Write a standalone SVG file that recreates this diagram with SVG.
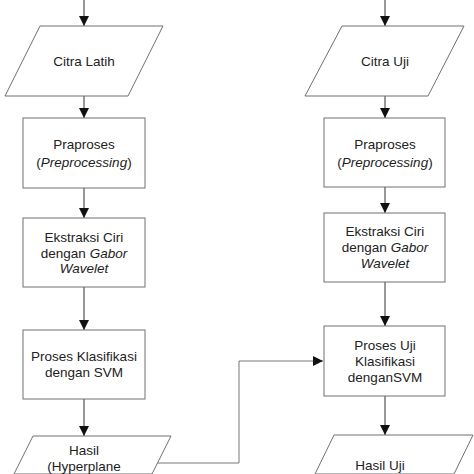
<svg xmlns="http://www.w3.org/2000/svg" width="474" height="474" viewBox="0 0 474 474">
<defs>
<marker id="ah" markerUnits="userSpaceOnUse" markerWidth="10" markerHeight="10" refX="10" refY="5" orient="auto">
<path d="M0,0 L10,5 L0,10 Z" fill="#111"/>
</marker>
<style>
.shape{fill:#fff;stroke:#707070;stroke-width:1}
.conn{fill:none;stroke:#333;stroke-width:1}
.ln{fill:none;stroke:#777;stroke-width:1}
text{font-family:"Liberation Sans",Arial,sans-serif;font-size:13.5px;fill:#222;text-anchor:middle}
.i{font-style:italic}
</style>
</defs>
<rect width="474" height="474" fill="#fff"/>
<g id="connectors">
<line class="conn" x1="84" y1="0" x2="84" y2="26" marker-end="url(#ah)"/>
<line class="conn" x1="84" y1="96" x2="84" y2="118" marker-end="url(#ah)"/>
<line class="conn" x1="84" y1="188" x2="84" y2="218" marker-end="url(#ah)"/>
<line class="conn" x1="84" y1="287" x2="84" y2="330" marker-end="url(#ah)"/>
<line class="conn" x1="84" y1="399" x2="84" y2="436" marker-end="url(#ah)"/>
<polyline class="ln" points="157,463 239,463 239,361 323,361" marker-end="url(#ah)"/>
<line class="conn" x1="385" y1="0" x2="385" y2="26" marker-end="url(#ah)"/>
<line class="conn" x1="385" y1="96" x2="385" y2="118" marker-end="url(#ah)"/>
<line class="conn" x1="385" y1="187" x2="385" y2="213" marker-end="url(#ah)"/>
<line class="conn" x1="385" y1="282" x2="385" y2="326" marker-end="url(#ah)"/>
<line class="conn" x1="385" y1="396" x2="385" y2="435" marker-end="url(#ah)"/>
</g>
<g id="citra-latih">
<polygon class="shape" points="40,26 163,26 128,96 5,96"/>
<text x="84" y="66">Citra Latih</text>
</g>
<g id="praproses-latih">
<rect class="shape" x="23" y="118" width="122" height="70"/>
<text x="84" y="149">Praproses</text>
<text x="84" y="167">(<tspan class="i">Preprocessing</tspan>)</text>
</g>
<g id="ekstraksi-latih">
<rect class="shape" x="23" y="218" width="122" height="69"/>
<text x="84" y="242">Ekstraksi Ciri</text>
<text x="84" y="258">dengan <tspan class="i">Gabor</tspan></text>
<text x="84" y="273" class="i">Wavelet</text>
</g>
<g id="klasifikasi">
<rect class="shape" x="23" y="330" width="122" height="69"/>
<text x="84" y="361">Proses Klasifikasi</text>
<text x="84" y="377">dengan SVM</text>
</g>
<g id="hasil">
<polygon class="shape" points="33,436 171,436 152,474 14,474"/>
<text x="84" y="455">Hasil</text>
<text x="84" y="471">(Hyperplane</text>
</g>
<g id="citra-uji">
<polygon class="shape" points="342,26 464,26 428,96 305,96"/>
<text x="385" y="66">Citra Uji</text>
</g>
<g id="praproses-uji">
<rect class="shape" x="324" y="118" width="121" height="69"/>
<text x="385" y="149">Praproses</text>
<text x="385" y="167">(<tspan class="i">Preprocessing</tspan>)</text>
</g>
<g id="ekstraksi-uji">
<rect class="shape" x="324" y="213" width="121" height="69"/>
<text x="385" y="236">Ekstraksi Ciri</text>
<text x="385" y="252">dengan <tspan class="i">Gabor</tspan></text>
<text x="385" y="268" class="i">Wavelet</text>
</g>
<g id="uji-klasifikasi">
<rect class="shape" x="324" y="326" width="121" height="70"/>
<text x="385" y="350">Proses Uji</text>
<text x="385" y="366">Klasifikasi</text>
<text x="385" y="382">denganSVM</text>
</g>
<g id="hasil-uji">
<polygon class="shape" points="334,435 473,435 454,474 315,474"/>
<text x="380" y="470">Hasil Uji</text>
</g>
</svg>
